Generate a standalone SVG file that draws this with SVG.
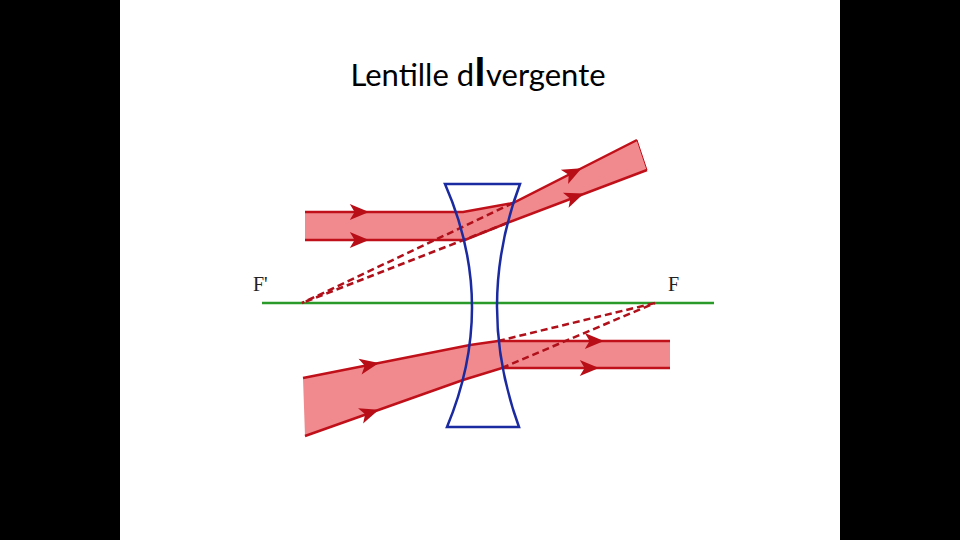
<svg xmlns="http://www.w3.org/2000/svg" width="960" height="540" viewBox="0 0 960 540">
<defs>
<style>
.fill{fill:#f08a8e;stroke:none}
.ray{fill:none;stroke:#c0101a;stroke-width:2.5}
.dash{fill:none;stroke:#b0101a;stroke-width:2.5;stroke-dasharray:7,4}
.lbl{font-family:"Liberation Serif",serif;font-size:20px;fill:#222}
</style>
<marker id="ah" viewBox="0 0 10 10" refX="9" refY="5" markerWidth="8" markerHeight="8" markerUnits="userSpaceOnUse" orient="auto" overflow="visible">
<path d="M-10,-5 L14,5 L-10,15 L-4,5 Z" fill="#b80e18"/>
</marker>
</defs>
<rect width="960" height="540" fill="#000"/>
<rect x="120" y="0" width="720" height="540" fill="#fff"/>
<text x="478" y="86" text-anchor="middle" font-family="Lato,'Liberation Sans',sans-serif" font-size="31" fill="#000">Lentille d<tspan font-weight="bold" font-size="40">I</tspan>vergente</text>
<g id="axis"><line x1="262" y1="303" x2="714" y2="303" stroke="#2a9a2a" stroke-width="2.5"/></g>
<g id="labels"><text class="lbl" x="253" y="291">F'</text><text class="lbl" x="668" y="291">F</text></g>
<g id="connectors">
<polygon class="fill" points="305,212 463,212 513,203 637,140 647,170 507,223 465,240 305,240"/>
<polygon class="fill" points="303,378 470,345 498,341 670,341 670,368 502,368 463,380 305,436"/>
<polyline class="ray" points="305,212 463,212 513,203 637,140"/>
<polyline class="ray" points="305,240 465,240 507,223 647,170"/>
<line x1="637" y1="140" x2="647" y2="170" stroke="#c0101a" stroke-width="1"/>
<polyline class="ray" points="303,378 470,345 498,341 670,341"/>
<polyline class="ray" points="305,436 463,380 502,368 670,368"/>
<line class="dash" x1="513" y1="203" x2="302" y2="303"/>
<line class="dash" x1="507" y1="223" x2="302" y2="303"/>
<line class="dash" x1="498" y1="341" x2="655" y2="303"/>
<line class="dash" x1="502" y1="368" x2="655" y2="303"/>
<g stroke="none">
<line x1="350" y1="212" x2="365" y2="212" marker-end="url(#ah)"/>
<line x1="350" y1="240" x2="365" y2="240" marker-end="url(#ah)"/>
<line x1="560" y1="179.2" x2="578" y2="170" marker-end="url(#ah)"/>
<line x1="563" y1="201.4" x2="580" y2="195" marker-end="url(#ah)"/>
<line x1="360" y1="366.7" x2="375" y2="363.8" marker-end="url(#ah)"/>
<line x1="360" y1="416" x2="375" y2="411" marker-end="url(#ah)"/>
<line x1="585" y1="341" x2="600" y2="341" marker-end="url(#ah)"/>
<line x1="580" y1="368" x2="595" y2="368" marker-end="url(#ah)"/>
</g>
</g>
<g id="lens"><path d="M445,184 L520,184 Q474.5,305 519,427 L447,427 Q498,305 445,184 Z" fill="none" stroke="#1a2aa0" stroke-width="2.5"/></g>
</svg>
